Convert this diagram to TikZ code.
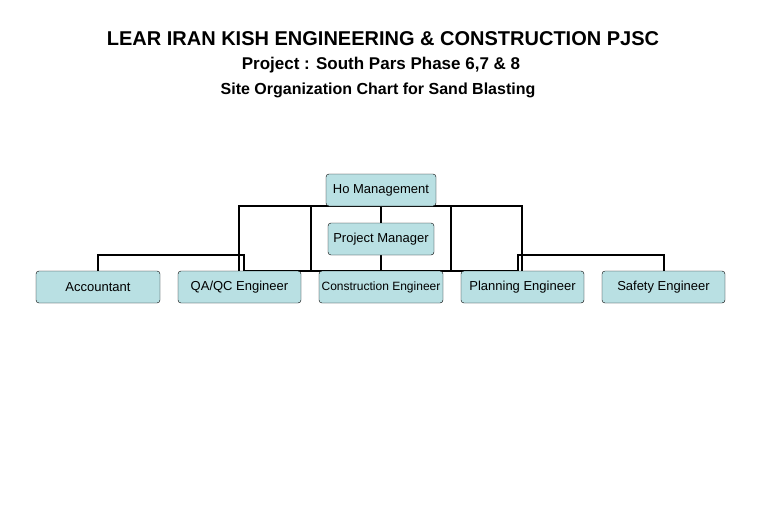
\documentclass[tikz,border=0pt]{standalone}
\usepackage{fontspec}
\setmainfont{Liberation Sans}
\begin{document}
\begin{tikzpicture}[x=1pt,y=-1pt,
  box/.style={draw,rounded corners=3pt,fill=boxc,inner sep=0pt,font=\fontsize{13}{15}\selectfont},
  ln/.style={line width=1.6pt}]
\definecolor{boxc}{HTML}{B9E0E3}
\useasboundingbox (0,0) rectangle (768,512);
\node[font=\bfseries\fontsize{20}{24}\selectfont] (t1) at (383,39) {LEAR IRAN KISH ENGINEERING \& CONSTRUCTION PJSC};
\node[font=\bfseries\fontsize{17}{20}\selectfont] (t2) at (381,65) {Project : South Pars Phase 6,7 \& 8};
\node[font=\bfseries\fontsize{16}{19}\selectfont] (t3) at (378,90) {Site Organization Chart for Sand Blasting};
\coordinate (a) at (239,206); \coordinate (b) at (311,206); \coordinate (c) at (451,206); \coordinate (d) at (522,206);
\coordinate (a2) at (239,271); \coordinate (b2) at (311,271); \coordinate (c2) at (451,271); \coordinate (d2) at (522,271);
\coordinate (l1) at (244,271); \coordinate (r1) at (518,271);
\coordinate (l2) at (244,255); \coordinate (r2) at (518,255);
\coordinate (al) at (98,255); \coordinate (sr) at (664,255);
\coordinate (am) at (381,271);
\draw[ln] (a2) -- (a) -- (d) -- (d2);
\draw[ln] (b) -- (b2); \draw[ln] (c) -- (c2);
\draw[ln] (l1) -- (r1);
\draw[ln] (98,271) -- (al) -- (l2) -- (l1);
\draw[ln] (664,271) -- (sr) -- (r2) -- (r1);
\draw[ln] (381,206) -- (381,223);
\draw[ln] (381,255) -- (am);
\node[box,minimum width=110pt,minimum height=32pt] (ho) at (381,190) {Ho Management};
\node[box,minimum width=106pt,minimum height=32pt] (pm) at (381,239) {Project Manager};
\node[box,minimum width=124pt,minimum height=32pt] (acc) at (98,287) {Accountant};
\node[box,minimum width=123pt,minimum height=32pt] (qa) at (239.5,287) {QA/QC Engineer};
\node[box,minimum width=124pt,minimum height=32pt,font=\fontsize{12}{14}\selectfont] (ce) at (381,287) {Construction Engineer};
\node[box,minimum width=123pt,minimum height=32pt] (pe) at (522.5,287) {Planning Engineer};
\node[box,minimum width=123pt,minimum height=32pt] (se) at (663.5,287) {Safety Engineer};
\end{tikzpicture}
\end{document}
